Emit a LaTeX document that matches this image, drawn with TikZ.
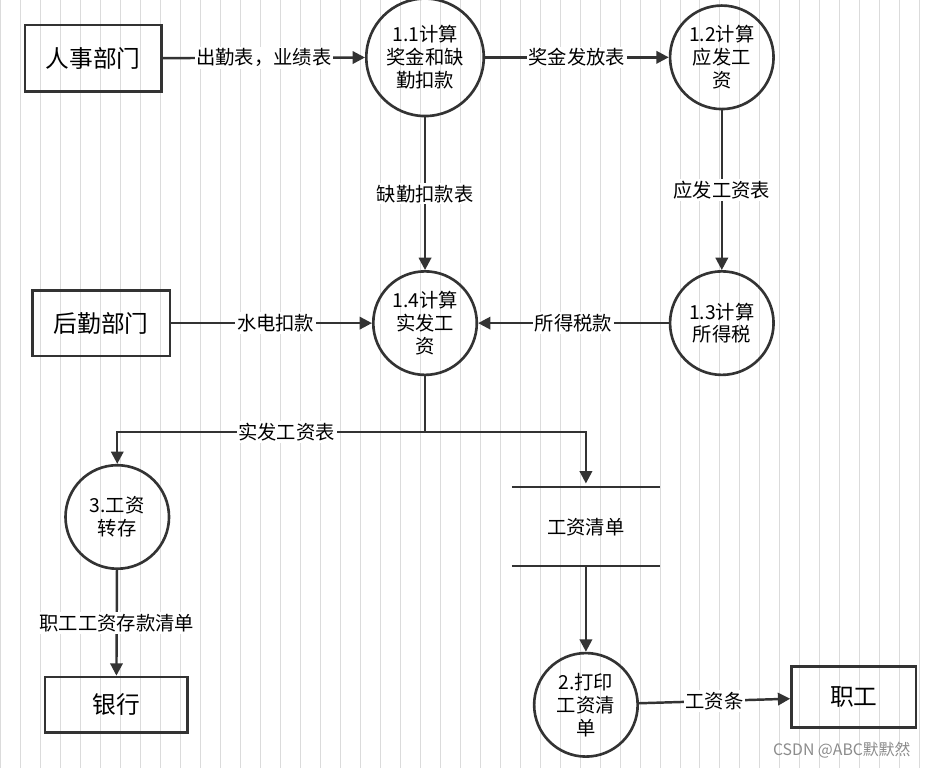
\documentclass[tikz,border=0pt]{standalone}
\usepackage{fontspec}
\setmainfont{Noto Sans CJK SC}
\usetikzlibrary{arrows.meta}
\begin{document}
\begin{tikzpicture}[x=0.02cm,y=-0.02cm,
  proc/.style={circle,draw=black!80,line width=1.5pt,minimum size=#1,inner sep=0pt,align=center,font=\fontsize{11}{13}\selectfont},
  ent/.style={draw=black!80,line width=1.5pt,minimum width=#1,inner sep=0pt,font=\fontsize{13.5}{15}\selectfont},
  fl/.style={line width=1.4pt,draw=black!80,-{Triangle[length=7pt,width=7pt]}},
  lab/.style={fill=white,inner sep=1pt,font=\fontsize{11}{13}\selectfont}]
\fill[white] (0,0) rectangle (931,768);
\draw[black!14,line width=0.4pt,step=20] (0,0) grid (931,768);
\useasboundingbox (0,0) rectangle (931,768);
\node[ent=137pt*0.567,minimum height=67*0.567pt] (hr) at (93,58) {人事部门};
\node[ent=138*0.567pt,minimum height=66*0.567pt] (hq) at (101,323) {后勤部门};
\node[ent=143*0.567pt,minimum height=56*0.567pt] (bank) at (116,705) {银行};
\node[ent=125*0.567pt,minimum height=61*0.567pt] (emp) at (854,697) {职工};
\node[proc=118*0.567pt] (p11) at (425,57) {1.1计算\\奖金和缺\\勤扣款};
\node[proc=104*0.567pt] (p12) at (722,57) {1.2计算\\应发工\\资};
\node[proc=104*0.567pt] (p14) at (425,323) {1.4计算\\实发工\\资};
\node[proc=104*0.567pt] (p13) at (722,323) {1.3计算\\所得税};
\node[proc=104*0.567pt] (p3) at (117,517) {3.工资\\转存};
\node[proc=104*0.567pt] (p2) at (586,705) {2.打印\\工资清\\单};
\node[font=\fontsize{11}{13}\selectfont] (st) at (586,527) {工资清单};
\coordinate (stT) at (586,487);
\coordinate (stB) at (586,566);
\draw[line width=1.5pt,black!80] (512,487) -- (660,487) (512,566) -- (660,566);
\draw[fl] (hr) -- node[lab]{出勤表，业绩表} (p11);
\draw[fl] (p11) -- node[lab]{奖金发放表} (p12);
\draw[fl] (p11) -- node[lab,pos=0.5]{缺勤扣款表} (p14);
\draw[fl] (p12) -- node[lab]{应发工资表} (p13);
\draw[fl] (hq) -- node[lab,pos=0.52]{水电扣款} (p14);
\draw[fl] (p13) -- node[lab]{所得税款} (p14);
\coordinate (j) at (425,432);
\draw[fl] (p14.south) -- (j) -- node[lab,pos=0.45]{实发工资表} (117,432) -- (p3.north);
\draw[fl] (j) -- (586,432) -- ([yshift=2]stT);
\draw[fl] (p3) -- node[lab]{职工工资存款清单} (bank);
\draw[fl] (stB) -- (p2.north);
\draw[fl] (p2) -- node[lab]{工资条} (emp);
\node[text=black!45,font=\fontsize{9}{11}\selectfont] (wm) at (842,750) {CSDN @ABC默默然};
\end{tikzpicture}
\end{document}
